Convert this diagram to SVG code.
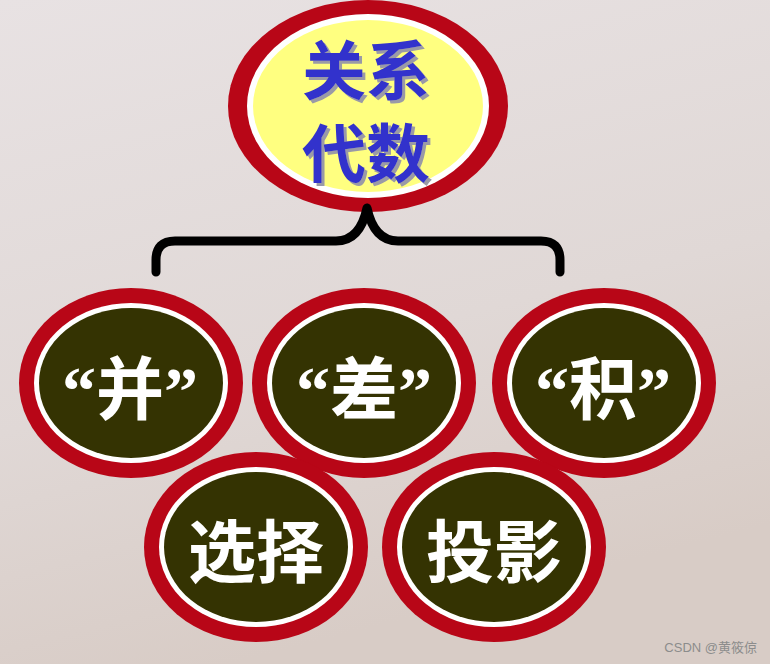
<svg xmlns="http://www.w3.org/2000/svg" width="770" height="664" viewBox="0 0 770 664">
<defs>
<linearGradient id="bg" x1="0" y1="0" x2="0.3" y2="1">
<stop offset="0" stop-color="#e8e2e3"/>
<stop offset="0.6" stop-color="#e0d8d6"/>
<stop offset="1" stop-color="#d8ccc6"/>
</linearGradient>
<filter id="shadow" x="-10%" y="-10%" width="130%" height="130%">
<feOffset dx="3" dy="3" in="SourceAlpha" result="o"/>
<feFlood flood-color="#9a9aa6"/>
<feComposite in2="o" operator="in" result="s"/>
<feMerge><feMergeNode in="s"/><feMergeNode in="SourceGraphic"/></feMerge>
</filter>
</defs>
<style>
.ring{fill:#b80617}
.gap{fill:#ffffff}
.dark{fill:#343302}
.yel{fill:#ffff80}
.lbl{font-family:"Liberation Serif","Noto Sans CJK SC",serif;font-weight:bold;font-size:68px;fill:#ffffff;text-anchor:middle}
.top{font-family:"Noto Sans CJK SC",sans-serif;font-weight:bold;font-size:64px;fill:#3333cc;text-anchor:middle}
.brace{fill:none;stroke:#000;stroke-width:9;stroke-linecap:round;stroke-linejoin:round}
</style>
<rect width="770" height="664" fill="url(#bg)"/>
<g id="node-root">
<ellipse class="ring" cx="368" cy="106" rx="140" ry="106"/>
<ellipse class="gap" cx="368" cy="106" rx="121" ry="92"/>
<ellipse class="yel" cx="368" cy="106" rx="115" ry="86"/>
<g filter="url(#shadow)">
<text class="top" x="366" y="94">关系</text>
<text class="top" x="366" y="177">代数</text>
</g>
</g>
<g id="node-union">
<ellipse class="ring" cx="131" cy="383" rx="112" ry="95"/>
<ellipse class="gap" cx="131" cy="383" rx="97" ry="80"/>
<ellipse class="dark" cx="131" cy="383" rx="92" ry="75"/>
<text class="lbl" x="130" y="414">“并”</text>
</g>
<g id="node-diff">
<ellipse class="ring" cx="364" cy="383" rx="112" ry="95"/>
<ellipse class="gap" cx="364" cy="383" rx="97" ry="80"/>
<ellipse class="dark" cx="364" cy="383" rx="92" ry="75"/>
<text class="lbl" x="364" y="414">“差”</text>
</g>
<g id="node-product">
<ellipse class="ring" cx="604" cy="383" rx="112" ry="95"/>
<ellipse class="gap" cx="604" cy="383" rx="97" ry="80"/>
<ellipse class="dark" cx="604" cy="383" rx="92" ry="75"/>
<text class="lbl" x="603" y="414">“积”</text>
</g>
<g id="node-select">
<ellipse class="ring" cx="256" cy="547" rx="112" ry="95"/>
<ellipse class="gap" cx="256" cy="547" rx="97" ry="80"/>
<ellipse class="dark" cx="256" cy="547" rx="92" ry="75"/>
<text class="lbl" x="256" y="577">选择</text>
</g>
<g id="node-project">
<ellipse class="ring" cx="494" cy="547" rx="112" ry="95"/>
<ellipse class="gap" cx="494" cy="547" rx="97" ry="80"/>
<ellipse class="dark" cx="494" cy="547" rx="92" ry="75"/>
<text class="lbl" x="494" y="577">投影</text>
</g>
<g id="connectors">
<path class="brace" d="M156,272 L156,260 Q156,241 175,241 L336,241 Q360,241 367,208 Q374,241 398,241 L541,241 Q560,241 560,260 L560,272"/>
</g>
<text x="757" y="652" font-family="'Liberation Sans','Noto Sans CJK SC',sans-serif" font-size="13" fill="#8c8c8c" text-anchor="end">CSDN @黄筱倞</text>
</svg>
